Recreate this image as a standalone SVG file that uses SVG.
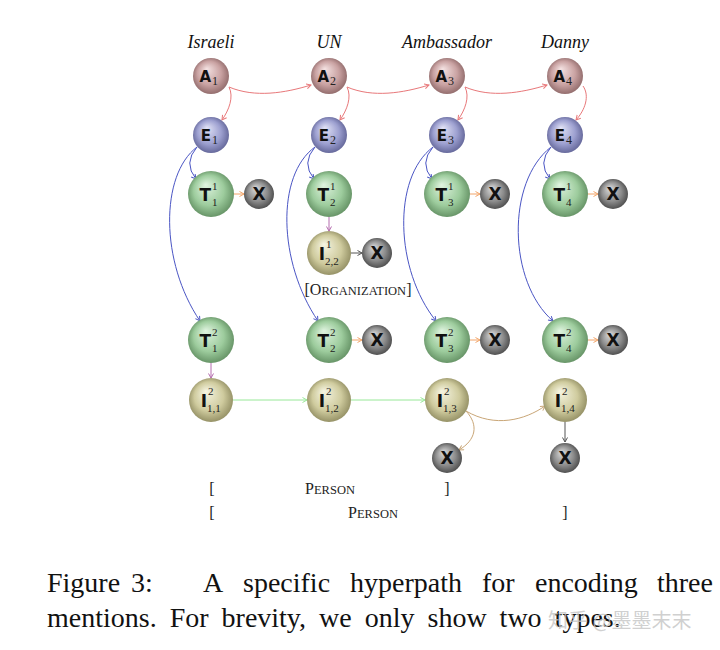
<svg xmlns="http://www.w3.org/2000/svg" width="720" height="650" viewBox="0 0 720 650">
<style>
.title{font-family:"Liberation Serif",serif;font-style:italic;font-size:18px;fill:#111;text-anchor:middle}
.lbl{font-family:"DejaVu Sans","Liberation Sans",sans-serif;font-weight:bold;font-size:15px;fill:#111}
.big{font-family:"DejaVu Sans","Liberation Sans",sans-serif;font-weight:bold;font-size:17px;fill:#111}
.scr{font-family:"Liberation Serif",serif;font-size:12px;fill:#222}
.ss{font-family:"Liberation Serif",serif;font-size:11px;fill:#222}
.sc{font-family:"Liberation Serif",serif;font-size:16px;fill:#222}
.cap{font-family:"Liberation Serif",serif;font-size:28px;fill:#111}
.e{fill:none;stroke-width:1}
.red{stroke:#e8787a}.blue{stroke:#4a55c4}.org{stroke:#f2a468}.grn{stroke:#98e898}.tan{stroke:#c9a677}.pur{stroke:#b46cae}.gry{stroke:#555}
</style>
<defs>
<radialGradient id="gA" cx="0.5" cy="0.5" r="0.55" fx="0.38" fy="0.3"><stop offset="0" stop-color="#f4e2e2"/><stop offset="0.6" stop-color="#c9a2a2"/><stop offset="1" stop-color="#8a6464"/></radialGradient>
<radialGradient id="gE" cx="0.5" cy="0.5" r="0.55" fx="0.38" fy="0.3"><stop offset="0" stop-color="#e2e3f6"/><stop offset="0.6" stop-color="#9da0d0"/><stop offset="1" stop-color="#5c5f92"/></radialGradient>
<radialGradient id="gT" cx="0.5" cy="0.5" r="0.55" fx="0.38" fy="0.3"><stop offset="0" stop-color="#e0f4e0"/><stop offset="0.6" stop-color="#9dcc9d"/><stop offset="1" stop-color="#5d8a5d"/></radialGradient>
<radialGradient id="gI" cx="0.5" cy="0.5" r="0.55" fx="0.38" fy="0.3"><stop offset="0" stop-color="#f6f5e2"/><stop offset="0.6" stop-color="#cfcb9e"/><stop offset="1" stop-color="#8b875c"/></radialGradient>
<radialGradient id="gX" cx="0.5" cy="0.5" r="0.55" fx="0.38" fy="0.3"><stop offset="0" stop-color="#dcdcdc"/><stop offset="0.6" stop-color="#8c8c8c"/><stop offset="1" stop-color="#444"/></radialGradient>
<marker id="mRed" markerUnits="userSpaceOnUse" markerWidth="7" markerHeight="7" refX="5" refY="3" orient="auto"><path d="M0.5,0.5 L5,3 L0.5,5.5" fill="none" stroke="#e8787a"/></marker>
<marker id="mBlue" markerUnits="userSpaceOnUse" markerWidth="7" markerHeight="7" refX="5" refY="3" orient="auto"><path d="M0.5,0.5 L5,3 L0.5,5.5" fill="none" stroke="#4a55c4"/></marker>
<marker id="mOrg" markerUnits="userSpaceOnUse" markerWidth="7" markerHeight="7" refX="5" refY="3" orient="auto"><path d="M0.5,0.5 L5,3 L0.5,5.5" fill="none" stroke="#f2a468"/></marker>
<marker id="mGrn" markerUnits="userSpaceOnUse" markerWidth="7" markerHeight="7" refX="5" refY="3" orient="auto"><path d="M0.5,0.5 L5,3 L0.5,5.5" fill="none" stroke="#98e898"/></marker>
<marker id="mTan" markerUnits="userSpaceOnUse" markerWidth="7" markerHeight="7" refX="5" refY="3" orient="auto"><path d="M0.5,0.5 L5,3 L0.5,5.5" fill="none" stroke="#c9a677"/></marker>
<marker id="mPur" markerUnits="userSpaceOnUse" markerWidth="7" markerHeight="7" refX="5" refY="3" orient="auto"><path d="M0.5,0.5 L5,3 L0.5,5.5" fill="none" stroke="#b46cae"/></marker>
<marker id="mGry" markerUnits="userSpaceOnUse" markerWidth="7" markerHeight="7" refX="5" refY="3" orient="auto"><path d="M0.5,0.5 L5,3 L0.5,5.5" fill="none" stroke="#555"/></marker>
</defs>
<rect width="720" height="650" fill="#fff"/>

<g id="titles">
<text class="title" x="211" y="48">Israeli</text>
<text class="title" x="329" y="48">UN</text>
<text class="title" x="447" y="48">Ambassador</text>
<text class="title" x="565" y="48">Danny</text>
</g>

<g id="connectors">
<path class="e red" d="M229,87 C255,98 285,93 311,85" marker-end="url(#mRed)"/>
<path class="e red" d="M229,87 C234,97 229,110 222,120" marker-end="url(#mRed)"/>
<path class="e red" d="M347,87 C373,98 403,93 429,85" marker-end="url(#mRed)"/>
<path class="e red" d="M347,87 C352,97 347,110 340,120" marker-end="url(#mRed)"/>
<path class="e red" d="M465,87 C491,98 521,93 547,85" marker-end="url(#mRed)"/>
<path class="e red" d="M465,87 C470,97 465,110 458,120" marker-end="url(#mRed)"/>
<path class="e red" d="M583,86 C590,96 585,110 576,120" marker-end="url(#mRed)"/>

<path class="e blue" d="M197,147 Q183,163 196,179" marker-end="url(#mBlue)"/>
<path class="e blue" d="M197,147 C160,175 160,262 200,321" marker-end="url(#mBlue)"/>
<path class="e blue" d="M315,147 Q301,163 314,179" marker-end="url(#mBlue)"/>
<path class="e blue" d="M315,147 C276,175 278,262 318,321" marker-end="url(#mBlue)"/>
<path class="e blue" d="M433,147 Q419,163 432,179" marker-end="url(#mBlue)"/>
<path class="e blue" d="M433,147 C392,178 395,270 436,321" marker-end="url(#mBlue)"/>
<path class="e blue" d="M551,147 Q537,163 550,179" marker-end="url(#mBlue)"/>
<path class="e blue" d="M551,147 C506,182 508,282 553,321" marker-end="url(#mBlue)"/>

<path class="e org" d="M234,194 L244,194" marker-end="url(#mOrg)"/>
<path class="e org" d="M470,194 L480,194" marker-end="url(#mOrg)"/>
<path class="e org" d="M588,194 L598,194" marker-end="url(#mOrg)"/>
<path class="e pur" d="M329,217 L329,231" marker-end="url(#mPur)"/>
<path class="e gry" d="M351,253 L362,253" marker-end="url(#mGry)"/>

<path class="e org" d="M352,340 L362,340" marker-end="url(#mOrg)"/>
<path class="e org" d="M470,340 L480,340" marker-end="url(#mOrg)"/>
<path class="e org" d="M588,340 L598,340" marker-end="url(#mOrg)"/>
<path class="e pur" d="M211,363 L211,378" marker-end="url(#mPur)"/>

<path class="e grn" d="M233,400 L307,400" marker-end="url(#mGrn)"/>
<path class="e grn" d="M351,400 L425,400" marker-end="url(#mGrn)"/>
<path class="e tan" d="M466,411 C495,428 525,420 545,406" marker-end="url(#mTan)"/>
<path class="e tan" d="M466,411 C479,425 476,440 459,450" marker-end="url(#mTan)"/>
<path class="e gry" d="M565,422 L565,442" marker-end="url(#mGry)"/>
</g>

<g id="A1"><circle cx="211" cy="76" r="18" fill="url(#gA)"/><text class="lbl" x="211" y="82" text-anchor="end">A</text><text class="scr" x="212" y="85">1</text></g>
<g id="A2"><circle cx="329" cy="76" r="18" fill="url(#gA)"/><text class="lbl" x="329" y="82" text-anchor="end">A</text><text class="scr" x="330" y="85">2</text></g>
<g id="A3"><circle cx="447" cy="76" r="18" fill="url(#gA)"/><text class="lbl" x="447" y="82" text-anchor="end">A</text><text class="scr" x="448" y="85">3</text></g>
<g id="A4"><circle cx="565" cy="76" r="18" fill="url(#gA)"/><text class="lbl" x="565" y="82" text-anchor="end">A</text><text class="scr" x="566" y="85">4</text></g>

<g id="E1"><circle cx="211" cy="135" r="18" fill="url(#gE)"/><text class="lbl" x="211" y="141" text-anchor="end">E</text><text class="scr" x="212" y="144">1</text></g>
<g id="E2"><circle cx="329" cy="135" r="18" fill="url(#gE)"/><text class="lbl" x="329" y="141" text-anchor="end">E</text><text class="scr" x="330" y="144">2</text></g>
<g id="E3"><circle cx="447" cy="135" r="18" fill="url(#gE)"/><text class="lbl" x="447" y="141" text-anchor="end">E</text><text class="scr" x="448" y="144">3</text></g>
<g id="E4"><circle cx="565" cy="135" r="18" fill="url(#gE)"/><text class="lbl" x="565" y="141" text-anchor="end">E</text><text class="scr" x="566" y="144">4</text></g>

<g id="T1_1"><circle cx="211" cy="194" r="23" fill="url(#gT)"/><text class="big" x="211" y="201" text-anchor="end">T</text><text class="ss" x="212" y="190">1</text><text class="ss" x="212" y="206">1</text></g>
<g id="T1_2"><circle cx="329" cy="194" r="23" fill="url(#gT)"/><text class="big" x="329" y="201" text-anchor="end">T</text><text class="ss" x="330" y="190">1</text><text class="ss" x="330" y="206">2</text></g>
<g id="T1_3"><circle cx="447" cy="194" r="23" fill="url(#gT)"/><text class="big" x="447" y="201" text-anchor="end">T</text><text class="ss" x="448" y="190">1</text><text class="ss" x="448" y="206">3</text></g>
<g id="T1_4"><circle cx="565" cy="194" r="23" fill="url(#gT)"/><text class="big" x="565" y="201" text-anchor="end">T</text><text class="ss" x="566" y="190">1</text><text class="ss" x="566" y="206">4</text></g>

<g id="X_T1_1"><circle cx="259" cy="194" r="15" fill="url(#gX)"/><text class="big" x="259" y="200" text-anchor="middle">X</text></g>
<g id="X_T1_3"><circle cx="495" cy="194" r="15" fill="url(#gX)"/><text class="big" x="495" y="200" text-anchor="middle">X</text></g>
<g id="X_T1_4"><circle cx="613" cy="194" r="15" fill="url(#gX)"/><text class="big" x="613" y="200" text-anchor="middle">X</text></g>

<g id="I1_22"><circle cx="329" cy="253" r="22" fill="url(#gI)"/><text class="big" x="325" y="260" text-anchor="end">I</text><text class="ss" x="326" y="248">1</text><text class="ss" x="325" y="265">2,2</text></g>
<g id="X_I1_22"><circle cx="377" cy="253" r="15" fill="url(#gX)"/><text class="big" x="377" y="259" text-anchor="middle">X</text></g>
<g id="org"><text class="sc" x="358" y="295" text-anchor="middle">[O<tspan font-size="12.5">RGANIZATION</tspan>]</text></g>

<g id="T2_1"><circle cx="211" cy="340" r="23" fill="url(#gT)"/><text class="big" x="211" y="347" text-anchor="end">T</text><text class="ss" x="212" y="336">2</text><text class="ss" x="212" y="352">1</text></g>
<g id="T2_2"><circle cx="329" cy="340" r="23" fill="url(#gT)"/><text class="big" x="329" y="347" text-anchor="end">T</text><text class="ss" x="330" y="336">2</text><text class="ss" x="330" y="352">2</text></g>
<g id="T2_3"><circle cx="447" cy="340" r="23" fill="url(#gT)"/><text class="big" x="447" y="347" text-anchor="end">T</text><text class="ss" x="448" y="336">2</text><text class="ss" x="448" y="352">3</text></g>
<g id="T2_4"><circle cx="565" cy="340" r="23" fill="url(#gT)"/><text class="big" x="565" y="347" text-anchor="end">T</text><text class="ss" x="566" y="336">2</text><text class="ss" x="566" y="352">4</text></g>

<g id="X_T2_2"><circle cx="377" cy="340" r="15" fill="url(#gX)"/><text class="big" x="377" y="346" text-anchor="middle">X</text></g>
<g id="X_T2_3"><circle cx="495" cy="340" r="15" fill="url(#gX)"/><text class="big" x="495" y="346" text-anchor="middle">X</text></g>
<g id="X_T2_4"><circle cx="613" cy="340" r="15" fill="url(#gX)"/><text class="big" x="613" y="346" text-anchor="middle">X</text></g>

<g id="I2_11"><circle cx="211" cy="400" r="22" fill="url(#gI)"/><text class="big" x="207" y="407" text-anchor="end">I</text><text class="ss" x="208" y="395">2</text><text class="ss" x="207" y="412">1,1</text></g>
<g id="I2_12"><circle cx="329" cy="400" r="22" fill="url(#gI)"/><text class="big" x="325" y="407" text-anchor="end">I</text><text class="ss" x="326" y="395">2</text><text class="ss" x="325" y="412">1,2</text></g>
<g id="I2_13"><circle cx="447" cy="400" r="22" fill="url(#gI)"/><text class="big" x="443" y="407" text-anchor="end">I</text><text class="ss" x="444" y="395">2</text><text class="ss" x="443" y="412">1,3</text></g>
<g id="I2_14"><circle cx="565" cy="400" r="22" fill="url(#gI)"/><text class="big" x="561" y="407" text-anchor="end">I</text><text class="ss" x="562" y="395">2</text><text class="ss" x="561" y="412">1,4</text></g>

<g id="X_I2_13"><circle cx="447" cy="458" r="15" fill="url(#gX)"/><text class="big" x="447" y="464" text-anchor="middle">X</text></g>
<g id="X_I2_14"><circle cx="565" cy="458" r="15" fill="url(#gX)"/><text class="big" x="565" y="464" text-anchor="middle">X</text></g>

<g id="spans">
<text class="sc" x="212" y="494" text-anchor="middle">[</text>
<text class="sc" x="330" y="494" text-anchor="middle">P<tspan font-size="12.5">ERSON</tspan></text>
<text class="sc" x="447" y="494" text-anchor="middle">]</text>
<text class="sc" x="212" y="518" text-anchor="middle">[</text>
<text class="sc" x="373" y="518" text-anchor="middle">P<tspan font-size="12.5">ERSON</tspan></text>
<text class="sc" x="565" y="518" text-anchor="middle">]</text>
</g>

<g id="caption">
<text class="cap" y="592"><tspan x="47">Figure</tspan><tspan x="131">3:</tspan><tspan x="203">A</tspan><tspan x="243">specific</tspan><tspan x="350">hyperpath</tspan><tspan x="482">for</tspan><tspan x="535">encoding</tspan><tspan x="657">three</tspan></text>
<text class="cap" x="47" y="627" word-spacing="6">mentions. For brevity, we only show two types.</text>
<text x="548" y="628" font-family="'Noto Sans CJK SC',sans-serif" font-size="20" fill="#c4c4c4" fill-opacity="0.8">知乎 @墨墨末末</text>
</g>
</svg>
